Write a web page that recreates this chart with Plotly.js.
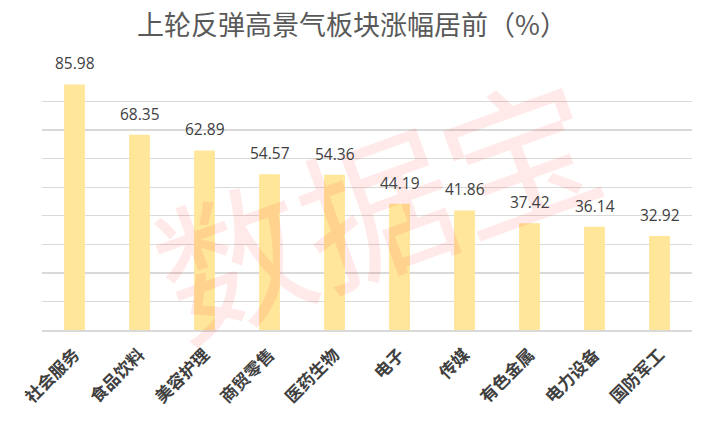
<!DOCTYPE html>
<html>
<head>
<meta charset="utf-8">
<script src="https://cdn.plot.ly/plotly-3.0.1.min.js"></script>
<style>html,body{margin:0;padding:0;background:#fff;}#chart{width:704px;height:426px;}</style>
</head>
<body>
<div id="chart"></div>
<script>
const chartTitle = "上轮反弹高景气板块涨幅居前（%）";
const categories = ["社会服务", "食品饮料", "美容护理", "商贸零售", "医药生物", "电子", "传媒", "有色金属", "电力设备", "国防军工"];
const values = [85.98, 68.35, 62.89, 54.57, 54.36, 44.19, 41.86, 37.42, 36.14, 32.92];
const watermark = "数据宝";

const trace = {
  type: "bar",
  x: categories,
  y: values,
  marker: {color: "#FFE699"},
  width: 0.32,
  hoverinfo: "x+y"
};

const labelAnnotations = categories.map((c, i) => ({
  x: c, y: values[i], xref: "x", yref: "y",
  text: values[i].toFixed(2),
  showarrow: false,
  yanchor: "middle",
  yshift: 21,
  font: {family: "Open Sans, Lato, sans-serif", size: 15.5, color: "#404040"}
}));

labelAnnotations.unshift({
  xref: "paper", yref: "paper", x: 0.51, y: 0.5,
  text: watermark, showarrow: false, textangle: -20,
  font: {family: "Noto Sans CJK SC", size: 152, color: "rgba(255,40,40,0.10)"}
});

const layout = {
  width: 704, height: 426,
  margin: {l: 42, r: 12, t: 73, b: 96, pad: 0},
  paper_bgcolor: "#fff", plot_bgcolor: "#fff",
  title: {text: chartTitle, x: 0.5, xanchor: "center", y: 0.94, yanchor: "middle",
    font: {family: "Noto Sans CJK SC", size: 27, color: "#595959"}},
  showlegend: false,
  bargap: 0.68,
  xaxis: {
    type: "category",
    tickangle: -45,
    showline: true, linecolor: "#D9D9D9", linewidth: 2,
    ticks: "", showgrid: false,
    ticklabelstandoff: 6,
    tickfont: {family: "Noto Sans CJK SC", size: 17, color: "#404040", weight: "bold"},
    fixedrange: true
  },
  yaxis: {
    range: [0, 90], dtick: 10,
    showgrid: true, gridcolor: "#D9D9D9", gridwidth: 1.3,
    showticklabels: false, zeroline: false, ticks: "",
    fixedrange: true
  },
  annotations: labelAnnotations
};

Plotly.newPlot("chart", [trace], layout, {displayModeBar: false, staticPlot: true});
</script>
</body>
</html>
